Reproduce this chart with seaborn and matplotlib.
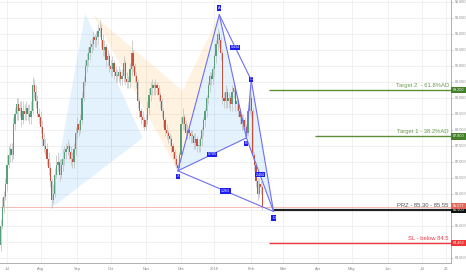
import numpy as np
import pandas as pd
import matplotlib
matplotlib.use("Agg")
import matplotlib.pyplot as plt
import matplotlib.transforms as mtransforms
import seaborn as sns

# ---------------- data ----------------
first_bar = "2017-06-26"
opens = [84.2, 84.4, 85.0, 85.6, 85.9, 86.3, 86.9, 87.2, 87.4, 87.2,
         88.2, 88.5, 88.8, 88.6, 88.7, 88.3, 88.6, 88.5, 88.7, 88.5,
         88.4, 88.6, 89.4, 89.2, 88.9, 88.5, 88.4, 88.1, 87.7, 87.5,
         87.4, 87.1, 86.8, 86.4, 85.8, 86.0, 86.6, 86.9, 87.0, 86.6,
         86.9, 87.1, 87.3, 87.4, 87.5, 87.3, 87.1, 87.0, 87.4, 87.9,
         88.2, 88.0, 88.3, 89.0, 89.5, 90.0, 90.2, 90.4, 90.6, 90.7,
         90.9, 90.8, 90.9, 91.1, 91.2, 90.8, 90.5, 90.6, 90.2, 90.3,
         90.0, 89.9, 90.1, 89.8, 89.7, 89.7, 89.8, 89.6, 89.7, 90.1,
         89.6, 89.5, 89.5, 89.9, 90.4, 90.0, 89.7, 89.5, 88.9, 88.6,
         88.4, 88.3, 88.1, 88.3, 88.7, 89.1, 89.3, 89.4, 89.3, 89.4,
         89.3, 89.1, 88.9, 88.6, 88.3, 88.0, 87.9, 87.8, 87.7, 87.5,
         87.3, 87.1, 86.9, 86.8, 87.2, 88.2, 88.4, 88.2, 87.9, 88.0,
         87.9, 87.8, 87.8, 87.6, 87.7, 87.5, 87.5, 87.7, 88.0, 88.3,
         88.6, 89.0, 89.4, 89.7, 89.6, 89.9, 90.3, 90.7, 91.0, 90.8,
         90.4, 89.0, 88.9, 89.2, 88.9, 89.0, 88.8, 89.2, 89.3, 88.8,
         88.9, 88.6, 88.4, 88.2, 88.3, 88.1, 87.9, 88.6, 89.0, 88.6,
         87.2, 86.9, 86.4, 86.0, 86.3, 86.2]
closes = [84.4, 85.0, 85.6, 85.9, 86.3, 86.9, 87.2, 87.4, 87.2, 88.2,
          88.5, 88.8, 88.6, 88.7, 88.3, 88.6, 88.5, 88.7, 88.5, 88.4,
          88.6, 89.4, 89.2, 88.9, 88.5, 88.4, 88.1, 87.7, 87.5, 87.4,
          87.1, 86.8, 86.4, 85.8, 86.0, 86.6, 86.9, 87.0, 86.6, 86.9,
          87.1, 87.3, 87.4, 87.5, 87.3, 87.1, 87.0, 87.4, 87.9, 88.2,
          88.0, 88.3, 89.0, 89.5, 90.0, 90.2, 90.4, 90.6, 90.7, 90.9,
          90.8, 90.9, 91.1, 91.2, 90.8, 90.5, 90.6, 90.2, 90.3, 90.0,
          89.9, 90.1, 89.8, 89.7, 89.7, 89.8, 89.6, 89.7, 90.1, 89.6,
          89.5, 89.5, 89.9, 90.4, 90.0, 89.7, 89.5, 88.9, 88.6, 88.4,
          88.3, 88.1, 88.3, 88.7, 89.1, 89.3, 89.4, 89.3, 89.4, 89.3,
          89.1, 88.9, 88.6, 88.3, 88.0, 87.9, 87.8, 87.7, 87.5, 87.3,
          87.1, 86.9, 86.8, 87.2, 88.2, 88.4, 88.2, 87.9, 88.0, 87.9,
          87.8, 87.8, 87.6, 87.7, 87.5, 87.5, 87.7, 88.0, 88.3, 88.6,
          89.0, 89.4, 89.7, 89.6, 89.9, 90.3, 90.7, 91.0, 90.8, 90.4,
          89.0, 88.9, 89.2, 88.9, 89.0, 88.8, 89.2, 89.3, 88.8, 88.9,
          88.6, 88.4, 88.2, 88.3, 88.1, 87.9, 88.6, 89.0, 88.6, 87.2,
          86.9, 86.4, 86.0, 86.3, 86.2, 85.58]
highs = [84.6, 85.2, 85.9, 86.1, 86.5, 87.2, 87.5, 87.6, 87.6, 88.4,
         88.7, 89.0, 89.0, 88.9, 88.9, 88.9, 88.8, 88.9, 88.8, 88.8,
         88.9, 89.65, 89.6, 89.4, 89.1, 88.7, 88.6, 88.3, 87.9, 87.7,
         87.6, 87.3, 87.0, 86.5, 86.3, 86.8, 87.2, 87.3, 87.1, 87.1,
         87.4, 87.5, 87.6, 87.7, 87.6, 87.5, 87.3, 87.6, 88.1, 88.4,
         88.3, 88.5, 89.2, 89.7, 90.2, 90.4, 90.6, 90.8, 90.9, 91.1,
         91.0, 91.1, 91.3, 91.45, 91.3, 91.0, 90.8, 90.7, 90.5, 90.4,
         90.2, 90.3, 90.2, 90.0, 89.9, 90.0, 89.9, 89.9, 90.3, 90.2,
         89.8, 89.7, 90.1, 90.8, 90.5, 90.1, 89.8, 89.6, 89.0, 88.7,
         88.6, 88.4, 88.5, 88.9, 89.3, 89.5, 89.6, 89.5, 89.6, 89.5,
         89.4, 89.2, 89.0, 88.7, 88.4, 88.2, 88.0, 87.9, 87.8, 87.6,
         87.4, 87.2, 87.0, 87.3, 88.4, 88.7, 88.5, 88.3, 88.2, 88.1,
         88.0, 88.0, 87.9, 87.9, 87.8, 87.7, 87.8, 88.1, 88.4, 88.7,
         89.1, 89.5, 89.8, 89.8, 90.0, 90.4, 90.8, 91.2, 91.1, 90.9,
         90.5, 89.2, 89.4, 89.3, 89.2, 89.1, 89.4, 89.5, 89.4, 89.1,
         89.0, 88.7, 88.5, 88.5, 88.4, 88.2, 88.7, 89.3, 89.1, 88.7,
         87.3, 87.0, 86.5, 86.5, 86.4, 86.3]
lows = [84.0, 84.2, 84.9, 85.4, 85.8, 86.1, 86.8, 87.0, 87.0, 87.1,
        88.0, 88.3, 88.3, 88.4, 88.1, 88.2, 88.3, 88.3, 88.3, 88.2,
        88.2, 88.5, 89.0, 88.7, 88.4, 88.2, 87.9, 87.5, 87.3, 87.2,
        86.9, 86.6, 86.2, 85.55, 85.7, 85.9, 86.5, 86.7, 86.4, 86.5,
        86.7, 86.9, 87.1, 87.2, 87.1, 86.9, 86.8, 86.8, 87.2, 87.7,
        87.8, 87.9, 88.2, 88.9, 89.4, 89.8, 90.0, 90.2, 90.4, 90.5,
        90.6, 90.6, 90.7, 90.9, 90.6, 90.3, 90.3, 90.0, 90.0, 89.8,
        89.7, 89.7, 89.6, 89.5, 89.5, 89.5, 89.4, 89.4, 89.5, 89.4,
        89.3, 89.3, 89.3, 89.7, 89.8, 89.5, 89.3, 88.7, 88.4, 88.2,
        88.1, 88.0, 88.0, 88.2, 88.5, 88.9, 89.1, 89.1, 89.1, 89.1,
        88.9, 88.7, 88.4, 88.1, 87.8, 87.7, 87.6, 87.5, 87.3, 87.1,
        86.9, 86.8, 86.7, 86.7, 87.1, 88.0, 88.0, 87.7, 87.7, 87.7,
        87.6, 87.6, 87.4, 87.4, 87.3, 87.3, 87.3, 87.5, 87.8, 88.1,
        88.4, 88.8, 89.2, 89.4, 89.4, 89.7, 90.1, 90.5, 90.6, 90.2,
        88.8, 88.7, 88.7, 88.7, 88.7, 88.6, 88.6, 89.0, 88.6, 88.6,
        88.4, 88.2, 88.0, 88.0, 87.9, 87.75, 87.8, 88.5, 88.4, 87.1,
        86.7, 86.2, 85.8, 85.9, 86.0, 85.5]

pattern_names = ["X", "A", "B", "C", "D"]
pattern_dates = ["2017-11-29", "2018-01-04", "2018-01-29", "2018-02-01", "2018-02-21"]
pattern_prices = [86.72, 91.60, 87.75, 89.56, 85.45]
ratio_pairs = [("A", "C"), ("X", "B"), ("X", "D"), ("B", "D")]
ratio_labels = ["0.434", "0.785", "1.263", "2.404"]

blue_dates = ["2017-08-09", "2017-09-08", "2017-10-30"]
blue_prices = [85.53, 91.63, 87.75]
orange_dates = ["2017-09-15", "2017-12-04"]
orange_prices = [91.60, 89.22]

level_texts = ["Target 2  - 61.8%AD", "Target 1 - 38.2%AD", "PRZ - 85.30 - 85.55", "SL - below 84.5"]
level_prices = [89.25, 87.80, 85.50, 84.463]
level_starts = ["2018-02-16", "2018-03-29", "2018-02-21", "2018-02-16"]
level_box_texts = ["89.250", "87.800", "85.500", "84.463"]
last_price = 85.577
last_price_text = "85.577"

month_ticks = ["2017-07-03", "2017-08-01", "2017-09-01", "2017-10-02", "2017-11-01",
               "2017-12-01", "2018-01-01", "2018-02-01", "2018-03-01", "2018-04-02",
               "2018-05-01", "2018-06-01", "2018-07-02", "2018-07-23"]
month_labels = ["Jul", "Aug", "Sep", "Oct", "Nov", "Dec", "2018", "Feb", "Mar",
                "Apr", "May", "Jun", "Jul", "23"]
y_ticks = [84.0, 85.0, 86.0, 86.5, 87.0, 87.5, 88.0, 88.5, 89.0, 89.5,
           90.0, 90.5, 91.0, 91.5, 92.0]

# ---------------- setup ----------------
sns.set_style("white")
plt.rcParams['font.family'] = ['Liberation Sans', 'DejaVu Sans']

all_days = pd.bdate_range(first_bar, "2018-08-31")
pos = {d.strftime("%Y-%m-%d"): i for i, d in enumerate(all_days)}
def px(d):
    return pos[d]

n = len(closes)
df = pd.DataFrame({"i": np.arange(n), "open": opens, "high": highs,
                   "low": lows, "close": closes})
df["up"] = df["close"] >= df["open"]

fig = plt.figure(figsize=(4.66, 2.75), dpi=100)
ax = fig.add_axes([0, 12 / 275, 451 / 466, 263 / 275])

ax.set_xlim(0.6, 283.2)
ax.set_ylim(83.84, 92.06)

# grid
for t in month_ticks:
    ax.axvline(px(t), color="#efefef", lw=0.6, zorder=0)
for y in np.arange(84.0, 92.01, 0.5):
    ax.axhline(y, color="#efefef", lw=0.6, zorder=0)

# shaded pattern areas
BLUE = "#2196f3"
ORANGE = "#ff9800"
FA = 0.12
bx = [px(d) for d in blue_dates]
ax.fill(bx, blue_prices, color=BLUE, alpha=FA, lw=0, zorder=1)
X = dict(zip(pattern_names, zip([px(d) for d in pattern_dates], pattern_prices)))
ox = [px(d) for d in orange_dates]
ax.fill([ox[0], ox[1], X["X"][0]], [orange_prices[0], orange_prices[1], X["X"][1]],
        color=ORANGE, alpha=FA, lw=0, zorder=1)
ax.fill([X["X"][0], ox[1], X["A"][0]], [X["X"][1], orange_prices[1], X["A"][1]],
        color=ORANGE, alpha=FA, lw=0, zorder=1)
ax.fill([X[k][0] for k in "XAB"], [X[k][1] for k in "XAB"], color=BLUE, alpha=FA, lw=0, zorder=1)
ax.fill([X[k][0] for k in "BCD"], [X[k][1] for k in "BCD"], color=BLUE, alpha=FA, lw=0, zorder=1)

# last price line
ax.axhline(last_price, color="#f3b2aa", lw=0.6, zorder=1.5)

# candles
UP, DOWN = "#5a9f7c", "#c4513e"
ax.vlines(df["i"], df["low"], df["high"], color="#bdbdbd", lw=0.5, zorder=2)
body_h = (df["close"] - df["open"]).abs().clip(lower=0.03)
body_b = df[["open", "close"]].min(axis=1)
ax.bar(df["i"], body_h, bottom=body_b, width=0.75,
       color=np.where(df["up"], UP, DOWN), lw=0, zorder=3)

# pattern lines (seaborn)
segs = []
for k, (a, b) in enumerate([("X", "A"), ("A", "B"), ("B", "C"), ("C", "D"),
                            ("X", "B"), ("X", "D"), ("A", "C"), ("B", "D")]):
    segs.append({"seg": k, "x": X[a][0], "y": X[a][1]})
    segs.append({"seg": k, "x": X[b][0], "y": X[b][1]})
seg_df = pd.DataFrame(segs)
sns.lineplot(data=seg_df, x="x", y="y", units="seg", estimator=None, sort=False,
             color="#6f6ff2", lw=0.8, ax=ax, zorder=4)

LBL = "#1c1cf5"
offsets = {"X": -4.0, "A": 5.0, "B": -4.0, "C": 0.5, "D": -4.5}
for k in pattern_names:
    ax.annotate(k, X[k], xytext=(0, offsets[k]), textcoords="offset points",
                ha="center", va="center", fontsize=2.8, color="white", zorder=6,
                bbox=dict(boxstyle="square,pad=0.2", fc=LBL, ec="none"))
for (a, b), lab in zip(ratio_pairs, ratio_labels):
    mx = (X[a][0] + X[b][0]) / 2
    my = (X[a][1] + X[b][1]) / 2
    ax.text(mx, my, lab, ha="center", va="center", fontsize=2.6, color="white", zorder=6,
            bbox=dict(boxstyle="square,pad=0.2", fc=LBL, ec="none"))

# levels
line_cols = ["#5b8f3a", "#5b8f3a", "#222222", "#f23645"]
text_cols = ["#6c9c4f", "#6c9c4f", "#555555", "#f23645"]
box_cols = ["#43802a", "#43802a", "#111111", "#f23636"]
lws = [1.0, 1.0, 1.6, 1.0]
x_end = 283.2
for t, p, s, lc, tc, lw in zip(level_texts, level_prices, level_starts, line_cols, text_cols, lws):
    ax.plot([px(s), x_end], [p, p], color=lc, lw=lw, zorder=5, solid_capstyle="butt")
    ax.text(281.8, p + 0.06, t, ha="right", va="bottom", fontsize=4.2, color=tc, zorder=6)

# right axis
ax.yaxis.tick_right()
ax.set_yticks(y_ticks)
ax.set_yticklabels([f"{v:.3f}" for v in y_ticks])
ax.tick_params(axis="y", labelsize=2.7, labelcolor="#888888", length=1.5, width=0.4,
               color="#aaaaaa", pad=1.2)
ax.set_xticks([px(t) for t in month_ticks])
ax.set_xticklabels(month_labels)
ax.tick_params(axis="x", labelsize=2.9, labelcolor="#888888", length=1.5, width=0.4,
               color="#aaaaaa", pad=1.5)
for sp in ["top", "left"]:
    ax.spines[sp].set_visible(False)
for sp in ["right", "bottom"]:
    ax.spines[sp].set_color("#b0b0b0")
    ax.spines[sp].set_linewidth(0.7)

trans = mtransforms.blended_transform_factory(ax.transAxes, ax.transData)
for p, t, c in zip(level_prices, level_box_texts, box_cols):
    ax.text(1.004, p, t, transform=trans, ha="left", va="center", fontsize=2.7,
            color="white", clip_on=False, zorder=7,
            bbox=dict(boxstyle="square,pad=0.35", fc=c, ec="none"))
ax.text(1.004, last_price + 0.05, last_price_text, transform=trans, ha="left", va="center",
        fontsize=2.7, color="white", clip_on=False, zorder=7,
        bbox=dict(boxstyle="square,pad=0.35", fc="#e2675a", ec="none"))

ax.set_xlabel("")
ax.set_ylabel("")
fig.savefig("out.png", dpi=100)
